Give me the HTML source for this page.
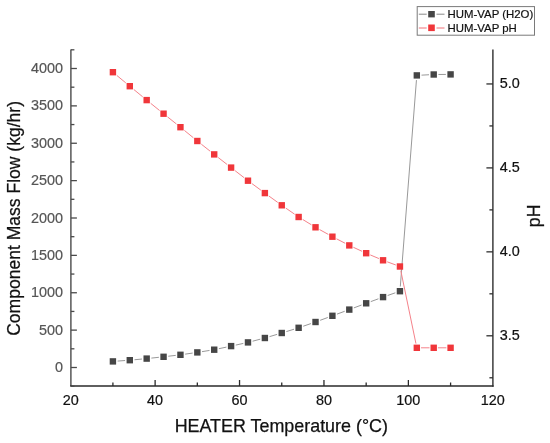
<!DOCTYPE html><html><head><meta charset="utf-8"><style>html,body{margin:0;padding:0;background:#fff;}svg{display:block;}text{font-family:"Liberation Sans",Arial,sans-serif;}</style></head><body>
<svg width="550" height="443" viewBox="0 0 550 443">
<rect width="550" height="443" fill="#fff"/>
<g stroke="#999999" stroke-width="1.0" fill="none"><line x1="117.61" y1="361.07" x2="125.10" y2="360.53"/><line x1="134.49" y1="359.76" x2="141.98" y2="359.04"/><line x1="151.37" y1="358.10" x2="158.87" y2="357.30"/><line x1="168.25" y1="356.24" x2="175.76" y2="355.36"/><line x1="185.13" y1="354.13" x2="192.64" y2="353.07"/><line x1="202.01" y1="351.65" x2="209.53" y2="350.45"/><line x1="218.88" y1="348.70" x2="226.43" y2="347.10"/><line x1="235.76" y1="345.08" x2="243.32" y2="343.42"/><line x1="252.63" y1="341.19" x2="260.21" y2="339.21"/><line x1="269.50" y1="336.63" x2="277.11" y2="334.37"/><line x1="286.38" y1="331.57" x2="294.00" y2="329.23"/><line x1="303.25" y1="326.21" x2="310.90" y2="323.59"/><line x1="320.13" y1="320.31" x2="327.79" y2="317.49"/><line x1="337.01" y1="314.11" x2="344.68" y2="311.29"/><line x1="353.89" y1="307.88" x2="361.56" y2="305.02"/><line x1="370.78" y1="301.61" x2="378.45" y2="298.79"/><line x1="387.67" y1="295.49" x2="395.32" y2="292.81"/><line x1="400.31" y1="286.50" x2="416.45" y2="80.10"/><line x1="421.52" y1="75.15" x2="429.01" y2="74.75"/><line x1="438.41" y1="74.47" x2="445.89" y2="74.43"/></g>
<g stroke="#f5828a" stroke-width="1.0" fill="none"><line x1="116.88" y1="75.49" x2="125.82" y2="82.91"/><line x1="133.77" y1="89.47" x2="142.71" y2="96.83"/><line x1="150.66" y1="103.30" x2="159.58" y2="110.50"/><line x1="167.54" y1="116.88" x2="176.46" y2="124.02"/><line x1="184.42" y1="130.45" x2="193.36" y2="137.75"/><line x1="201.31" y1="144.16" x2="210.23" y2="151.24"/><line x1="218.20" y1="157.52" x2="227.11" y2="164.48"/><line x1="235.09" y1="170.70" x2="243.99" y2="177.60"/><line x1="251.99" y1="183.64" x2="260.86" y2="190.16"/><line x1="268.88" y1="196.00" x2="277.74" y2="202.40"/><line x1="285.77" y1="208.09" x2="294.61" y2="214.21"/><line x1="302.69" y1="219.47" x2="311.46" y2="224.83"/><line x1="319.59" y1="229.57" x2="328.33" y2="234.43"/><line x1="336.49" y1="238.81" x2="345.20" y2="243.29"/><line x1="353.39" y1="247.30" x2="362.06" y2="251.30"/><line x1="370.29" y1="254.93" x2="378.93" y2="258.57"/><line x1="387.19" y1="261.82" x2="395.80" y2="264.98"/><line x1="400.81" y1="270.68" x2="415.95" y2="343.62"/><line x1="421.02" y1="347.80" x2="429.51" y2="347.80"/><line x1="437.91" y1="347.80" x2="446.39" y2="347.80"/></g>
<g fill="#464646"><rect x="109.71" y="358.20" width="6.4" height="6.4"/><rect x="126.59" y="357.00" width="6.4" height="6.4"/><rect x="143.48" y="355.40" width="6.4" height="6.4"/><rect x="160.36" y="353.60" width="6.4" height="6.4"/><rect x="177.25" y="351.60" width="6.4" height="6.4"/><rect x="194.13" y="349.20" width="6.4" height="6.4"/><rect x="211.01" y="346.50" width="6.4" height="6.4"/><rect x="227.90" y="342.90" width="6.4" height="6.4"/><rect x="244.78" y="339.20" width="6.4" height="6.4"/><rect x="261.67" y="334.80" width="6.4" height="6.4"/><rect x="278.55" y="329.80" width="6.4" height="6.4"/><rect x="295.43" y="324.60" width="6.4" height="6.4"/><rect x="312.32" y="318.80" width="6.4" height="6.4"/><rect x="329.20" y="312.60" width="6.4" height="6.4"/><rect x="346.09" y="306.40" width="6.4" height="6.4"/><rect x="362.97" y="300.10" width="6.4" height="6.4"/><rect x="379.85" y="293.90" width="6.4" height="6.4"/><rect x="396.74" y="288.00" width="6.4" height="6.4"/><rect x="413.62" y="72.20" width="6.4" height="6.4"/><rect x="430.51" y="71.30" width="6.4" height="6.4"/><rect x="447.39" y="71.20" width="6.4" height="6.4"/></g>
<g fill="#f0363a"><rect x="109.71" y="69.00" width="6.4" height="6.4"/><rect x="126.59" y="83.00" width="6.4" height="6.4"/><rect x="143.48" y="96.90" width="6.4" height="6.4"/><rect x="160.36" y="110.50" width="6.4" height="6.4"/><rect x="177.25" y="124.00" width="6.4" height="6.4"/><rect x="194.13" y="137.80" width="6.4" height="6.4"/><rect x="211.01" y="151.20" width="6.4" height="6.4"/><rect x="227.90" y="164.40" width="6.4" height="6.4"/><rect x="244.78" y="177.50" width="6.4" height="6.4"/><rect x="261.67" y="189.90" width="6.4" height="6.4"/><rect x="278.55" y="202.10" width="6.4" height="6.4"/><rect x="295.43" y="213.80" width="6.4" height="6.4"/><rect x="312.32" y="224.10" width="6.4" height="6.4"/><rect x="329.20" y="233.50" width="6.4" height="6.4"/><rect x="346.09" y="242.20" width="6.4" height="6.4"/><rect x="362.97" y="250.00" width="6.4" height="6.4"/><rect x="379.85" y="257.10" width="6.4" height="6.4"/><rect x="396.74" y="263.30" width="6.4" height="6.4"/><rect x="413.62" y="344.60" width="6.4" height="6.4"/><rect x="430.51" y="344.60" width="6.4" height="6.4"/><rect x="447.39" y="344.60" width="6.4" height="6.4"/></g>
<line x1="70.9" y1="49.5" x2="70.9" y2="386.0" stroke="#4a4a4a" stroke-width="1.4"/>
<line x1="492.9" y1="49.5" x2="492.9" y2="386.7" stroke="#2e2e2e" stroke-width="1.4"/>
<line x1="70.2" y1="386.0" x2="493.59999999999997" y2="386.0" stroke="#2a2a2a" stroke-width="1.4"/>
<g stroke="#4a4a4a" stroke-width="1.3"><line x1="70.9" y1="386.19" x2="74.4" y2="386.19"/><line x1="70.9" y1="367.50" x2="76.9" y2="367.50"/><line x1="70.9" y1="348.81" x2="74.4" y2="348.81"/><line x1="70.9" y1="330.12" x2="76.9" y2="330.12"/><line x1="70.9" y1="311.44" x2="74.4" y2="311.44"/><line x1="70.9" y1="292.75" x2="76.9" y2="292.75"/><line x1="70.9" y1="274.06" x2="74.4" y2="274.06"/><line x1="70.9" y1="255.38" x2="76.9" y2="255.38"/><line x1="70.9" y1="236.69" x2="74.4" y2="236.69"/><line x1="70.9" y1="218.00" x2="76.9" y2="218.00"/><line x1="70.9" y1="199.31" x2="74.4" y2="199.31"/><line x1="70.9" y1="180.62" x2="76.9" y2="180.62"/><line x1="70.9" y1="161.94" x2="74.4" y2="161.94"/><line x1="70.9" y1="143.25" x2="76.9" y2="143.25"/><line x1="70.9" y1="124.56" x2="74.4" y2="124.56"/><line x1="70.9" y1="105.88" x2="76.9" y2="105.88"/><line x1="70.9" y1="87.19" x2="74.4" y2="87.19"/><line x1="70.9" y1="68.50" x2="76.9" y2="68.50"/><line x1="70.9" y1="49.81" x2="74.4" y2="49.81"/></g>
<g fill="#555" stroke="#555" stroke-width="0.2" font-size="14.4" text-anchor="end"><text x="62.9" y="372.10">0</text><text x="62.9" y="334.73">500</text><text x="62.9" y="297.35">1000</text><text x="62.9" y="259.98">1500</text><text x="62.9" y="222.60">2000</text><text x="62.9" y="185.22">2500</text><text x="62.9" y="147.85">3000</text><text x="62.9" y="110.47">3500</text><text x="62.9" y="73.10">4000</text></g>
<g stroke="#2e2e2e" stroke-width="1.3"><line x1="492.9" y1="377.78" x2="489.4" y2="377.78"/><line x1="492.9" y1="335.80" x2="486.4" y2="335.80"/><line x1="492.9" y1="293.82" x2="489.4" y2="293.82"/><line x1="492.9" y1="251.85" x2="486.4" y2="251.85"/><line x1="492.9" y1="209.88" x2="489.4" y2="209.88"/><line x1="492.9" y1="167.90" x2="486.4" y2="167.90"/><line x1="492.9" y1="125.93" x2="489.4" y2="125.93"/><line x1="492.9" y1="83.95" x2="486.4" y2="83.95"/></g>
<g fill="#111" stroke="#111" stroke-width="0.2" font-size="14.4"><text x="499.8" y="340.00">3.5</text><text x="499.8" y="256.05">4.0</text><text x="499.8" y="172.10">4.5</text><text x="499.8" y="88.15">5.0</text></g>
<g stroke="#2a2a2a" stroke-width="1.3"><line x1="112.91" y1="386.0" x2="112.91" y2="382.5"/><line x1="155.12" y1="386.0" x2="155.12" y2="380.0"/><line x1="197.33" y1="386.0" x2="197.33" y2="382.5"/><line x1="239.54" y1="386.0" x2="239.54" y2="380.0"/><line x1="281.75" y1="386.0" x2="281.75" y2="382.5"/><line x1="323.96" y1="386.0" x2="323.96" y2="380.0"/><line x1="366.17" y1="386.0" x2="366.17" y2="382.5"/><line x1="408.38" y1="386.0" x2="408.38" y2="380.0"/><line x1="450.59" y1="386.0" x2="450.59" y2="382.5"/></g>
<g fill="#111" stroke="#111" stroke-width="0.2" font-size="14.4" text-anchor="middle"><text x="70.70" y="404.6">20</text><text x="155.12" y="404.6">40</text><text x="239.54" y="404.6">60</text><text x="323.96" y="404.6">80</text><text x="408.38" y="404.6">100</text><text x="492.80" y="404.6">120</text></g>
<text x="281.3" y="432.1" font-size="17.9" text-anchor="middle" fill="#111" stroke="#111" stroke-width="0.25">HEATER Temperature (°C)</text>
<text transform="translate(20.3 218.4) rotate(-90)" x="0" y="0" font-size="17.55" text-anchor="middle" fill="#111" stroke="#111" stroke-width="0.25">Component Mass Flow (kg/hr)</text>
<text transform="translate(539.8 215.9) rotate(-90)" x="0" y="0" font-size="17.6" text-anchor="middle" fill="#111" stroke="#111" stroke-width="0.25">pH</text>
<rect x="417.2" y="6.6" width="117.3" height="28.6" fill="#fff" stroke="#7a7a7a" stroke-width="1"/>
<line x1="418.8" y1="14.2" x2="426.7" y2="14.2" stroke="#8a8a8a" stroke-width="1"/><line x1="436.5" y1="14.2" x2="444.5" y2="14.2" stroke="#8a8a8a" stroke-width="1"/>
<rect x="428.2" y="11.0" width="6.6" height="6.4" fill="#464646"/>
<line x1="418.8" y1="28" x2="426.7" y2="28" stroke="#f07078" stroke-width="1"/><line x1="436.5" y1="28" x2="444.5" y2="28" stroke="#f07078" stroke-width="1"/>
<rect x="428.2" y="24.5" width="6.6" height="6.6" fill="#f0363a"/>
<text x="447.6" y="18.2" font-size="11.4" fill="#111" stroke="#111" stroke-width="0.2">HUM-VAP (H2O)</text>
<text x="447.6" y="31.6" font-size="11.4" fill="#111" stroke="#111" stroke-width="0.2">HUM-VAP pH</text>
</svg></body></html>
